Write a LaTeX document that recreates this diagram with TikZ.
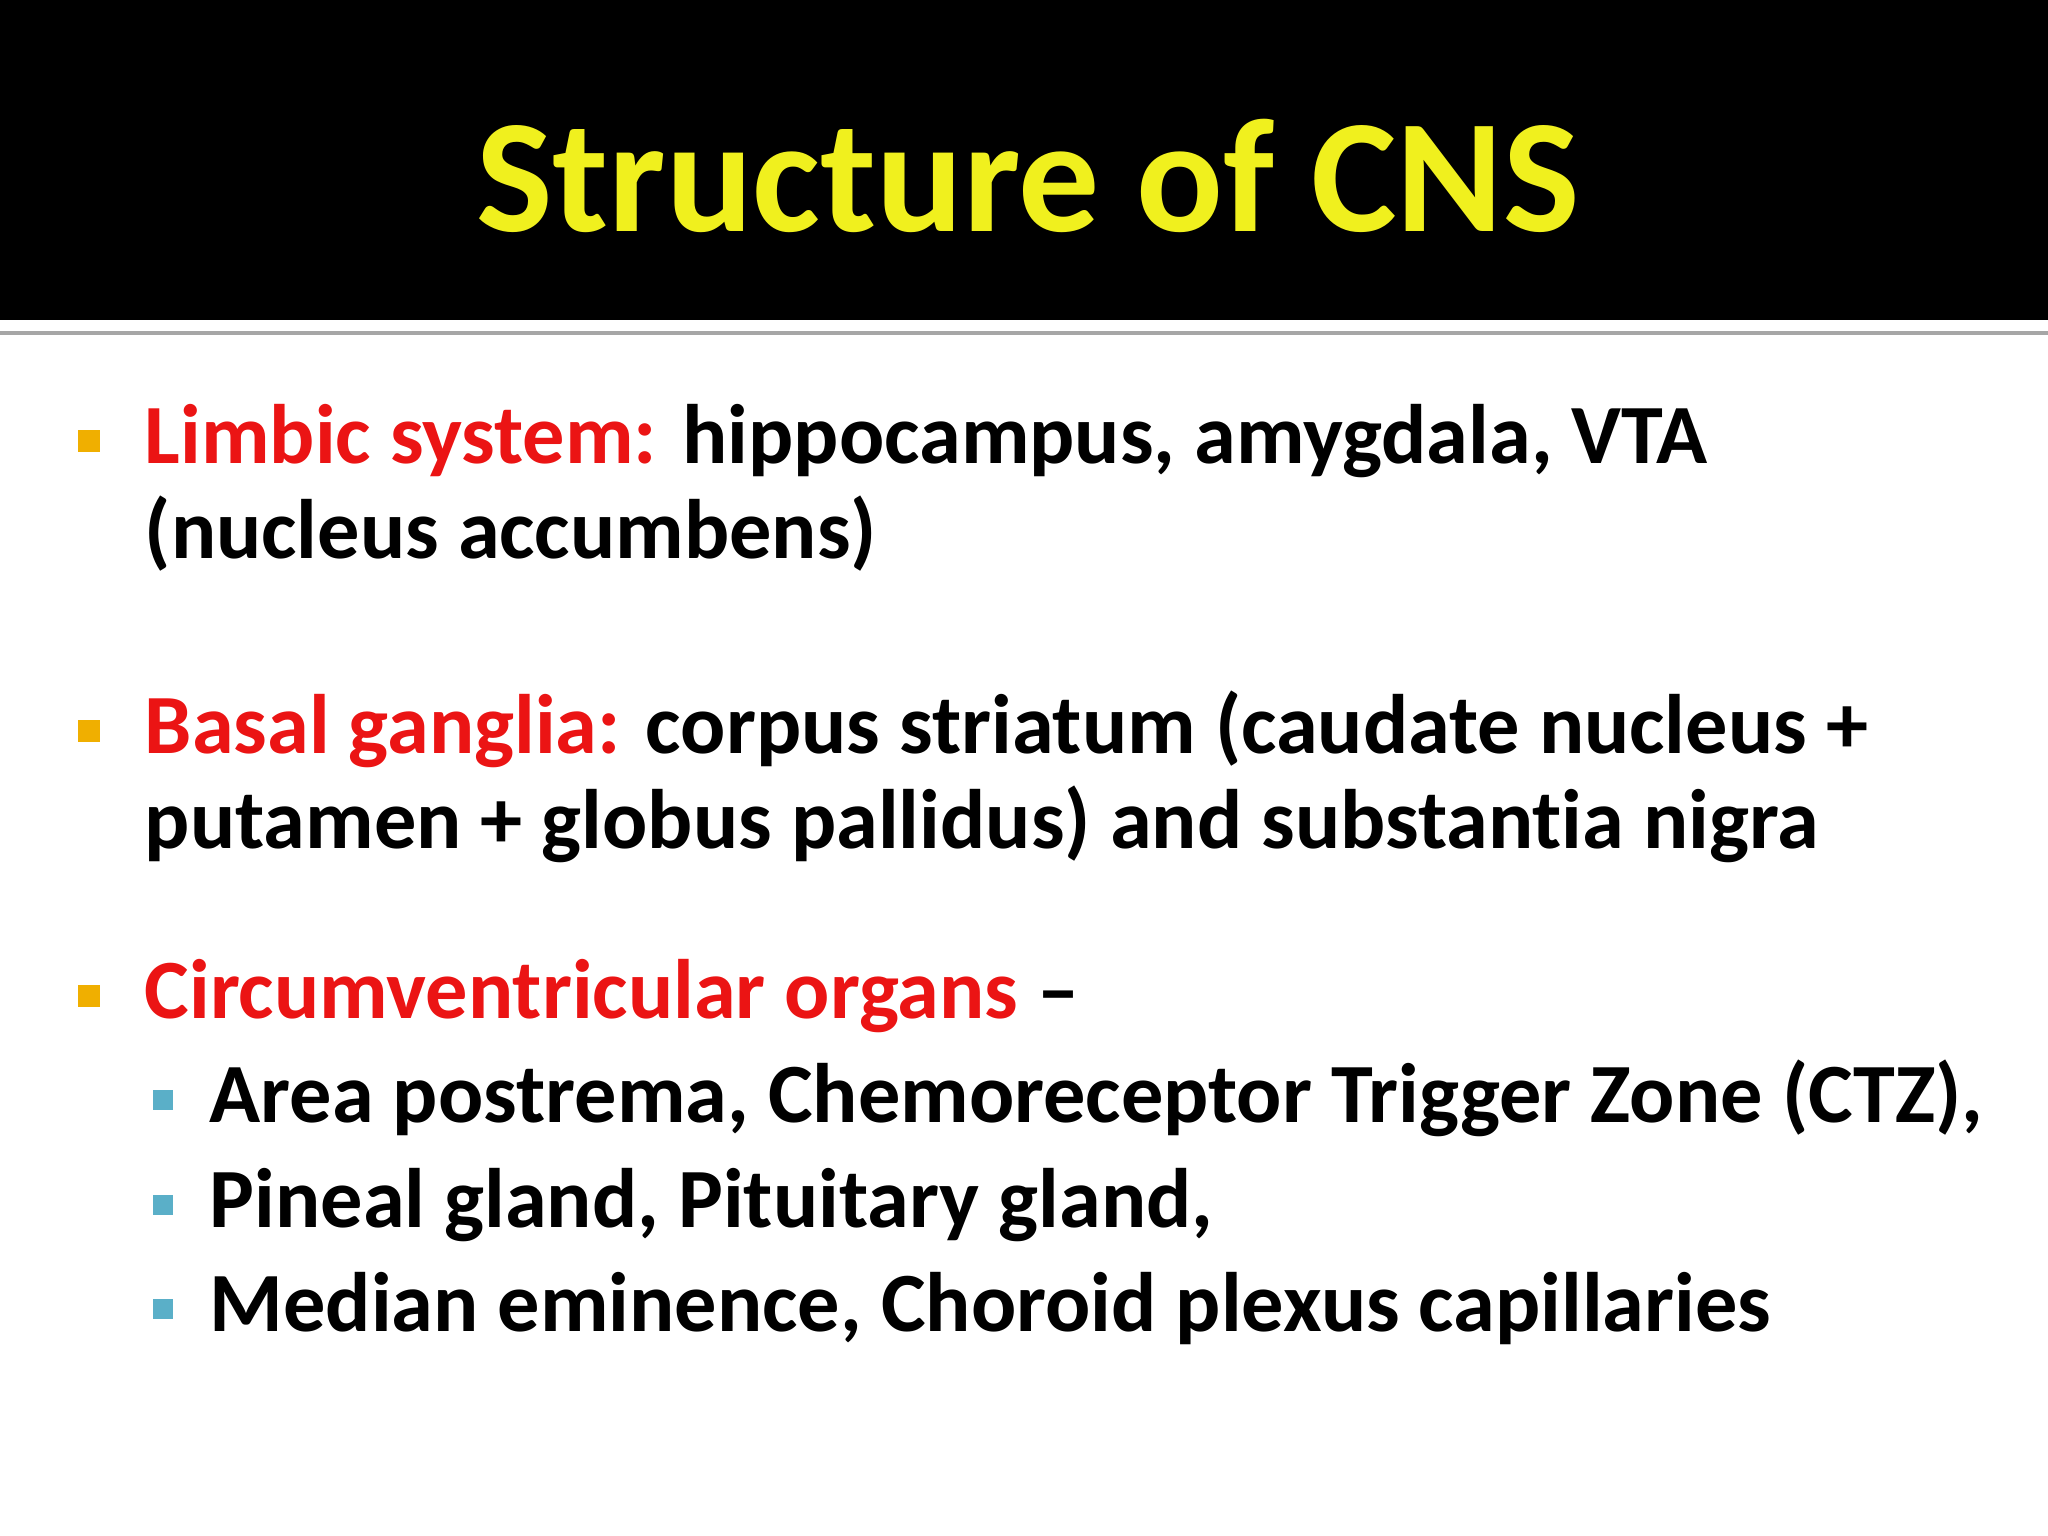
\documentclass[tikz,border=0pt]{standalone}
\usepackage{fontspec}
\setmainfont[Ligatures=NoCommon]{Carlito}
\usetikzlibrary{positioning}
\definecolor{titleyellow}{RGB}{240,240,30}
\definecolor{keyred}{RGB}{235,20,20}
\definecolor{dotorange}{RGB}{240,175,0}
\definecolor{dotblue}{RGB}{90,175,200}

\begin{document}
\begin{tikzpicture}[
  x=1cm, y=1cm,
  line/.style = {anchor=base west, inner sep=0pt, font=\fontsize{24}{28}\selectfont\bfseries},
  dot/.style = {rectangle, inner sep=0pt, minimum size=2.2mm, fill=dotorange},
  subdot/.style = {rectangle, inner sep=0pt, minimum size=2mm, fill=dotblue}
]
\useasboundingbox (0,0) rectangle (20.48,15.36);

% Header band
\fill[black] (0,12.16) rectangle (20.48,15.36);
\draw[gray!70, line width=1.2pt] (0,12.03) -- (20.48,12.03);
\node[font=\fontsize{46}{52}\selectfont\bfseries, text=titleyellow] (title) at (10.28,13.6) {Structure of CNS};

% Main bullets
\node[line] (limbic) at (1.44,10.72) {\textcolor{keyred}{Limbic system:} hippocampus, amygdala, VTA};
\node[line] (limbic2) at (1.44,9.77) {(nucleus accumbens)};
\node[line] (basal) at (1.44,7.82) {\textcolor{keyred}{Basal ganglia:} corpus striatum (caudate nucleus +};
\node[line] (basal2) at (1.44,6.87) {putamen + globus pallidus) and substantia nigra};
\node[line] (circ) at (1.44,5.17) {\textcolor{keyred}{Circumventricular organs} --};

\node[dot] (d1) at (0.89,10.95) {};
\node[dot] (d2) at (0.89,8.05) {};
\node[dot] (d3) at (0.89,5.40) {};

% Sub bullets
\node[line] (area) at (2.09,4.13) {Area postrema, Chemoreceptor Trigger Zone (CTZ),};
\node[line] (pineal) at (2.09,3.08) {Pineal gland, Pituitary gland,};
\node[line] (median) at (2.09,2.04) {Median eminence, Choroid plexus capillaries};

\node[subdot] (s1) at (1.63,4.36) {};
\node[subdot] (s2) at (1.63,3.31) {};
\node[subdot] (s3) at (1.63,2.27) {};
\end{tikzpicture}
\end{document}
